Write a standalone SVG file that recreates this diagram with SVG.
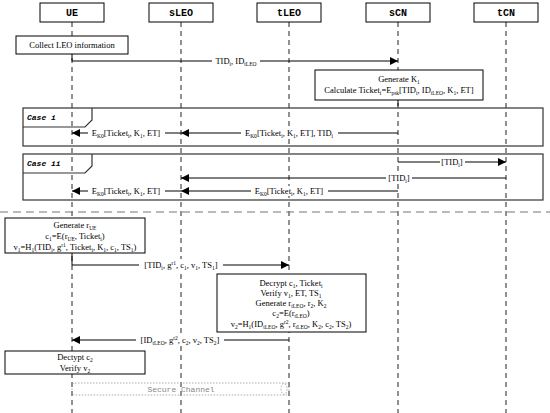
<svg xmlns="http://www.w3.org/2000/svg" width="550" height="413" viewBox="0 0 550 413">
<defs>
<marker id="ah" viewBox="0 0 10 10" refX="10" refY="5" markerWidth="10" markerHeight="8" markerUnits="userSpaceOnUse" orient="auto">
<path d="M0,0 L10,5 L0,10 z" fill="#000"/>
</marker>
<style>
.hdr{fill:#fff;stroke:#000;stroke-width:1}
.hdrt{font-family:"Liberation Mono","DejaVu Sans Mono",monospace;font-size:10px;font-weight:bold;text-anchor:middle;fill:#000}
.life{stroke:#222;stroke-width:1;stroke-dasharray:5,4;fill:none}
.box{fill:#fff;stroke:#000;stroke-width:1}
.t{font-family:"Liberation Serif","Times New Roman",serif;font-size:8.5px;fill:#000;text-anchor:middle}
.s{font-size:5.5px;baseline-shift:-1.5px}
.p{font-size:5.5px;baseline-shift:3px}
.msg{stroke:#000;stroke-width:1;fill:none}
.arr{marker-end:url(#ah)}
.bg{fill:#fff}
.case{fill:none;stroke:#333;stroke-width:1.2}
.caset{font-family:"Liberation Mono","DejaVu Sans Mono",monospace;font-size:8px;font-weight:bold;font-style:italic;fill:#000}
.sep{stroke:#777;stroke-width:1.2;stroke-dasharray:8,5}
.sec{fill:none;stroke:#999;stroke-width:0.8;stroke-dasharray:1.5,1.5}
.sect{font-family:"Liberation Mono","DejaVu Sans Mono",monospace;font-size:8px;fill:#888;text-anchor:middle}
</style>
</defs>
<rect width="550" height="413" fill="#fff"/>

<!-- lifelines -->
<g id="lifelines">
<line class="life" x1="72" y1="22" x2="72" y2="413"/>
<line class="life" x1="181" y1="22" x2="181" y2="413"/>
<line class="life" x1="289" y1="22" x2="289" y2="413"/>
<line class="life" x1="398" y1="22" x2="398" y2="413"/>
<line class="life" x1="506" y1="22" x2="506" y2="413"/>
</g>

<!-- headers -->
<g id="UE"><rect class="hdr" x="40" y="3" width="64" height="19"/><text class="hdrt" x="72" y="16">UE</text></g>
<g id="sLEO"><rect class="hdr" x="149" y="3" width="64" height="19"/><text class="hdrt" x="181" y="16">sLEO</text></g>
<g id="tLEO"><rect class="hdr" x="257" y="3" width="64" height="19"/><text class="hdrt" x="289" y="16">tLEO</text></g>
<g id="sCN"><rect class="hdr" x="366" y="3" width="64" height="19"/><text class="hdrt" x="398" y="16">sCN</text></g>
<g id="tCN"><rect class="hdr" x="474" y="3" width="64" height="19"/><text class="hdrt" x="506" y="16">tCN</text></g>

<!-- case frames -->
<g id="case1">
<rect class="case" x="23" y="108" width="520" height="38"/>
<path class="case" d="M23,127 L85,127 L92,120 L92,108"/>
<text class="caset" x="27" y="120">Case i</text>
</g>
<g id="case2">
<rect class="case" x="23" y="154" width="520" height="46"/>
<path class="case" d="M23,173 L85,173 L92,166 L92,154"/>
<text class="caset" x="27" y="166">Case ii</text>
</g>

<line class="sep" x1="0" y1="212" x2="550" y2="212"/>

<!-- process boxes -->
<g id="collect">
<rect class="box" x="16" y="36" width="112" height="18"/>
<text class="t" x="72" y="48">Collect LEO information</text>
</g>
<g id="generateK1">
<rect class="box" x="315" y="70" width="168" height="30"/>
<text class="t" x="399" y="82">Generate K<tspan class="s">1</tspan></text>
<text class="t" x="399" y="93">Calculate Ticket<tspan class="s">i</tspan>=E<tspan class="s">psk</tspan>[TID<tspan class="s">i</tspan>, ID<tspan class="s">tLEO</tspan>, K<tspan class="s">1</tspan>, ET]</text>
</g>
<g id="generateRUE">
<rect class="box" x="5" y="218" width="140" height="35"/>
<text class="t" x="75" y="228">Generate r<tspan class="s">UE</tspan></text>
<text class="t" x="75" y="239">c<tspan class="s">1</tspan>=E(r<tspan class="s">UE</tspan>, Ticket<tspan class="s">i</tspan>)</text>
<text class="t" x="75" y="250">v<tspan class="s">1</tspan>=H<tspan class="s">1</tspan>(TID<tspan class="s">i</tspan>, g<tspan class="p">r1</tspan>, Ticket<tspan class="s">i</tspan>, K<tspan class="s">1</tspan>, c<tspan class="s">1</tspan>, TS<tspan class="s">1</tspan>)</text>
</g>
<g id="decrypt">
<rect class="box" x="217" y="274" width="149" height="58"/>
<text class="t" x="291" y="286">Decrypt c<tspan class="s">1</tspan>, Ticket<tspan class="s">i</tspan></text>
<text class="t" x="291" y="296">Verify v<tspan class="s">1</tspan>, ET, TS<tspan class="s">1</tspan></text>
<text class="t" x="291" y="306">Generate r<tspan class="s">tLEO</tspan>, r<tspan class="s">2</tspan>, K<tspan class="s">2</tspan></text>
<text class="t" x="291" y="316">c<tspan class="s">2</tspan>=E(r<tspan class="s">tLEO</tspan>)</text>
<text class="t" x="291" y="327">v<tspan class="s">2</tspan>=H<tspan class="s">1</tspan>(ID<tspan class="s">tLEO</tspan>, g<tspan class="p">r2</tspan>, r<tspan class="s">tLEO</tspan>, K<tspan class="s">2</tspan>, c<tspan class="s">2</tspan>, TS<tspan class="s">2</tspan>)</text>
</g>
<g id="dectypt">
<rect class="box" x="5" y="351" width="140" height="23"/>
<text class="t" x="75" y="360">Dectypt c<tspan class="s">2</tspan></text>
<text class="t" x="75" y="371">Verify v<tspan class="s">2</tspan></text>
</g>

<!-- connectors -->
<g id="connectors">
<line class="msg" x1="72" y1="54" x2="72" y2="61"/>
<line class="msg arr" x1="72" y1="61" x2="398" y2="61"/>
<rect class="bg" x="212" y="56" width="48" height="10"/>
<text class="t" x="236" y="64">TID<tspan class="s">i</tspan>, ID<tspan class="s">tLEO</tspan></text>

<line class="msg" x1="398" y1="100" x2="398" y2="106"/>

<line class="msg arr" x1="398" y1="133" x2="181" y2="133"/>
<rect class="bg" x="241" y="128" width="97" height="10"/>
<text class="t" x="289" y="136">E<tspan class="s">K0</tspan>[Ticket<tspan class="s">i</tspan>, K<tspan class="s">1</tspan>, ET], TID<tspan class="s">i</tspan></text>
<line class="msg arr" x1="181" y1="133" x2="72" y2="133"/>
<rect class="bg" x="88" y="128" width="77" height="10"/>
<text class="t" x="126" y="136">E<tspan class="s">K0</tspan>[Ticket<tspan class="s">i</tspan>, K<tspan class="s">1</tspan>, ET]</text>

<line class="msg arr" x1="398" y1="162" x2="506" y2="162"/>
<rect class="bg" x="440" y="157" width="25" height="10"/>
<text class="t" x="452" y="165">[TID<tspan class="s">i</tspan>]</text>
<line class="msg arr" x1="506" y1="178" x2="181" y2="178"/>
<rect class="bg" x="386" y="173" width="26" height="10"/>
<text class="t" x="399" y="181">[TID<tspan class="s">i</tspan>]</text>
<line class="msg arr" x1="398" y1="191" x2="181" y2="191"/>
<rect class="bg" x="251" y="186" width="77" height="10"/>
<text class="t" x="289" y="194">E<tspan class="s">K0</tspan>[Ticket<tspan class="s">i</tspan>, K<tspan class="s">1</tspan>, ET]</text>
<line class="msg arr" x1="181" y1="191" x2="72" y2="191"/>
<rect class="bg" x="88" y="186" width="77" height="10"/>
<text class="t" x="126" y="194">E<tspan class="s">K0</tspan>[Ticket<tspan class="s">i</tspan>, K<tspan class="s">1</tspan>, ET]</text>

<line class="msg" x1="72" y1="253" x2="72" y2="265"/>
<line class="msg arr" x1="72" y1="265" x2="289" y2="265"/>
<rect class="bg" x="139" y="259" width="84" height="11"/>
<text class="t" x="181" y="268">[TID<tspan class="s">i</tspan>, g<tspan class="p">r1</tspan>, c<tspan class="s">1</tspan>, v<tspan class="s">1</tspan>, TS<tspan class="s">1</tspan>]</text>

<line class="msg arr" x1="289" y1="340" x2="72" y2="340"/>
<rect class="bg" x="136" y="334" width="88" height="11"/>
<text class="t" x="180" y="343">[ID<tspan class="s">tLEO</tspan>, g<tspan class="p">r2</tspan>, c<tspan class="s">2</tspan>, v<tspan class="s">2</tspan>, TS<tspan class="s">2</tspan>]</text>
</g>

<!-- secure channel -->
<g id="secure">
<rect class="sec" x="72" y="383" width="217" height="12" rx="3"/>
<ellipse class="sec" cx="284" cy="389" rx="3" ry="5.5"/>
<text class="sect" x="181" y="392">Secure Channel</text>
</g>
</svg>
